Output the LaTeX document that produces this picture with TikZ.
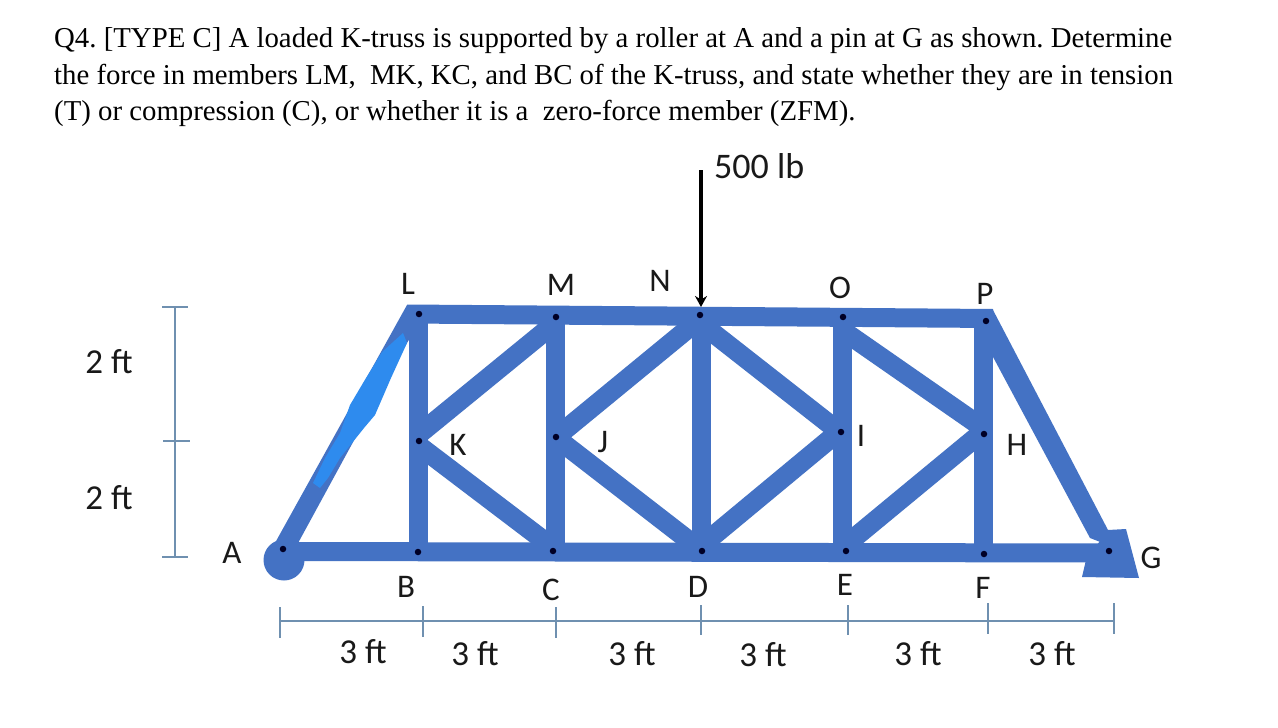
\documentclass[tikz,border=0pt]{standalone}
\usepackage{fontspec}
\usetikzlibrary{arrows.meta}
\setmainfont{Liberation Serif}
\newfontfamily\lab{Carlito}
\definecolor{truss}{HTML}{4472C4}
\definecolor{hilite}{HTML}{2E8BEE}
\definecolor{dimc}{HTML}{6F90B0}
\frenchspacing
\tikzset{
 x=1pt,y=-1pt,
 member/.style={draw=truss,line width=19pt,line cap=butt},
 brace/.style={draw=truss,line width=19.5pt,line cap=butt},
 jointdot/.style={circle,fill=black!85!blue,inner sep=0pt,minimum size=6.5pt},
 ptlabel/.style={font=\lab\fontsize{33}{33}\selectfont,text=black!90,inner sep=0pt},
 dimlabel/.style={font=\lab\fontsize{35}{35}\selectfont,text=black!90,inner sep=0pt},
 dimline/.style={draw=dimc,line width=1.4pt},
 para/.style={font=\fontsize{28.8}{36}\selectfont,anchor=base west,inner sep=0pt},
}
\begin{document}
\begin{tikzpicture}
\useasboundingbox (0,0) rectangle (1278,728);
\fill[white] (0,0) rectangle (1278,728);
\node[para] (t1) at (54,47) {Q4. [TYPE C] A loaded K-truss is supported by a roller at A and a pin at G as shown. Determine};
\node[para] (t2) at (54,84) {the force in members LM,\ \ MK, KC, and BC of the K-truss, and state whether they are in tension};
\node[para] (t3) at (54,120) {(T) or compression (C), or whether it is a\ \ zero-force member (ZFM).};
% joints
\coordinate (A) at (283,549);
\coordinate (B) at (418,552);
\coordinate (C) at (553,551);
\coordinate (D) at (702,551);
\coordinate (E) at (846,551);
\coordinate (F) at (984,554);
\coordinate (G) at (1109,551);
\coordinate (L) at (419,314);
\coordinate (M) at (556,317);
\coordinate (N) at (700,315);
\coordinate (O) at (843,317);
\coordinate (P) at (986,321);
\coordinate (K) at (419,441);
\coordinate (J) at (556,437);
\coordinate (I) at (841,432);
\coordinate (H) at (984,434);
% member end points
\coordinate (kmK) at (418,435);   \coordinate (kmM) at (555,323);
\coordinate (kcK) at (418,445);   \coordinate (kcC) at (555,549);
\coordinate (jnJ) at (555,438);   \coordinate (jnN) at (701,318);
\coordinate (jdJ) at (555,437);   \coordinate (jdD) at (701,550);
\coordinate (niN) at (701,323.5); \coordinate (niI) at (842,434);
\coordinate (idI) at (842,429);   \coordinate (idD) at (701,546);
\coordinate (ohO) at (842,330);   \coordinate (ohH) at (983,428);
\coordinate (heH) at (983,431.5); \coordinate (heE) at (842,548);
\coordinate (vLt) at (418,314);   \coordinate (vLb) at (418,552);
\coordinate (vMt) at (555,316);   \coordinate (vMb) at (555,552);
\coordinate (vNt) at (701,316);   \coordinate (vNb) at (701,552);
\coordinate (vOt) at (842,317);   \coordinate (vOb) at (842,552);
\coordinate (vPt) at (983,318);   \coordinate (vPb) at (983,553);
\coordinate (topL) at (407,314);  \coordinate (topR) at (993,318.5);
\coordinate (botL) at (284,551.5);\coordinate (botR) at (1105,553);
% supports
\fill[truss] (284,560) circle (20.5);
\fill[truss] (1108,530) -- (1126,529) -- (1139,578) -- (1082,577) -- (1086,560) -- cycle;
% diagonals
\draw[brace] (kmK) -- (kmM);
\draw[brace] (kcK) -- (kcC);
\draw[brace] (jnJ) -- (jnN);
\draw[brace] (jdJ) -- (jdD);
\draw[brace] (niN) -- (niI);
\draw[brace] (idI) -- (idD);
\draw[brace] (ohO) -- (ohH);
\draw[brace] (heH) -- (heE);
% verticals
\draw[member] (vLt) -- (vLb);
\draw[member] (vMt) -- (vMb);
\draw[member] (vNt) -- (vNb);
\draw[member] (vOt) -- (vOb);
\draw[member] (vPt) -- (vPb);
% chords
\draw[member] (topL) -- (topR);
\draw[member] (botL) -- (botR);
% inclined end members
\fill[truss] (275,543) -- (407,305) -- (415,330) -- (407,343) -- (297,545) -- cycle;
\fill[truss] (974,310) -- (993,310) -- (1108,530) -- (1108,545) -- (1090,538) -- (985,342) -- cycle;
% highlight
\fill[hilite] (403,333) -- (382,352) -- (366,378) -- (350,405) -- (340,433) -- (325,458) -- (313,483) -- (320,488) -- (328,478) -- (340,458) -- (352,443) -- (364,428) -- (375,415) -- (391,378) -- (407,343) -- cycle;
% load
\coordinate (loadtop) at (701,170);
\coordinate (loadtip) at (701,307);
\draw[line width=3.8pt,-{Stealth[length=11pt,width=12pt]},black] (loadtop) -- (loadtip);
\node[dimlabel,anchor=west,font=\lab\fontsize{36}{36}\selectfont] (f) at (714,166) {500 lb};
% dots
\foreach \n/\p in {da/A,db/B,dc/C,dd/D,de/E,df/F,dg/G,dl/L,dm/M,dn/N,dp/O,dq/P,dk/K,dj/J,di/I,dh/H}
  \node[jointdot] (\n) at (\p) {};
% labels
\node[ptlabel] (lA) at (232,553) {A};
\node[ptlabel] (lB) at (406,587) {B};
\node[ptlabel] (lC) at (551,590) {C};
\node[ptlabel] (lD) at (698,587) {D};
\node[ptlabel] (lE) at (845,585) {E};
\node[ptlabel] (lF) at (983,588) {F};
\node[ptlabel] (lG) at (1151,558) {G};
\node[ptlabel] (lL) at (408,284) {L};
\node[ptlabel] (lM) at (561,285) {M};
\node[ptlabel] (lN) at (660,281) {N};
\node[ptlabel] (lO) at (840,288) {O};
\node[ptlabel] (lP) at (985,294) {P};
\node[ptlabel] (lK) at (458,445) {K};
\node[ptlabel] (lJ) at (603,442) {J};
\node[ptlabel] (lI) at (861,436) {I};
\node[ptlabel] (lH) at (1017,445) {H};
% vertical dimension
\coordinate (v1) at (175,307); \coordinate (v3) at (175,557);
\draw[dimline] (v1) -- (v3);
\coordinate (va1) at (162,307); \coordinate (vb1) at (188,307);
\coordinate (va2) at (163,441); \coordinate (vb2) at (190,441);
\coordinate (va3) at (162,557); \coordinate (vb3) at (188,557);
\draw[dimline] (va1) -- (vb1);
\draw[dimline] (va2) -- (vb2);
\draw[dimline] (va3) -- (vb3);
\node[dimlabel] (h1) at (109,362) {2 ft};
\node[dimlabel] (h2) at (109,498) {2 ft};
% horizontal dimension
\coordinate (h0) at (280,621); \coordinate (h6) at (1114,621);
\draw[dimline] (h0) -- (h6);
\foreach \x/\a/\b in {280/607/638,423/606/637,556/607/638,701/605/635,848/605/635,988/603/634,1114/603/634}
  \draw[dimline] (\x,\a) -- (\x,\b);
\node[dimlabel] (w1) at (363,652) {3 ft};
\node[dimlabel] (w2) at (475,654) {3 ft};
\node[dimlabel] (w3) at (632,654) {3 ft};
\node[dimlabel] (w4) at (763,655) {3 ft};
\node[dimlabel] (w5) at (918,654) {3 ft};
\node[dimlabel] (w6) at (1052,654) {3 ft};
\end{tikzpicture}
\end{document}
